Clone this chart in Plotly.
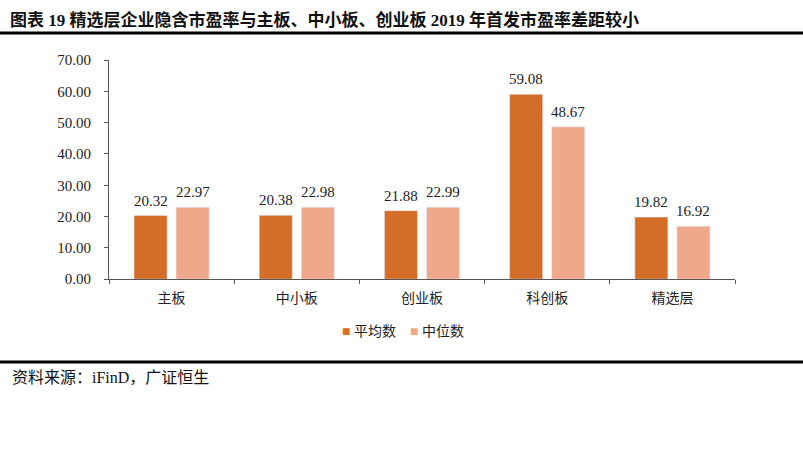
import plotly.graph_objects as go

categories = ["主板", "中小板", "创业板", "科创板", "精选层"]
avg_vals = [20.32, 20.38, 21.88, 59.08, 19.82]
med_vals = [22.97, 22.98, 22.99, 48.67, 16.92]
series_names = ["平均数", "中位数"]
colors = ["#D46D28", "#F0A88A"]
title_text = "图表 19 精选层企业隐含市盈率与主板、中小板、创业板 2019 年首发市盈率差距较小"
source_text = "资料来源：iFinD，广证恒生"

W, H = 803, 455
num_font = "Liberation Serif, Times New Roman, serif"
cjk_font = "Liberation Serif, Noto Sans CJK SC, serif"

fig = go.Figure()
for name, vals, col in zip(series_names, [avg_vals, med_vals], colors):
    fig.add_trace(go.Bar(x=categories, y=vals, name=name, marker_color=col,
                         showlegend=False))

# value labels, anchored to each bar's value (offset to the bar centre in the group)
for vals, xs in [(avg_vals, -21), (med_vals, 21)]:
    for c, v in zip(categories, vals):
        fig.add_annotation(x=c, y=v, text=f"{v:.2f}", showarrow=False,
                           xref="x", yref="y", xshift=xs, yshift=5,
                           yanchor="bottom", xanchor="center",
                           font=dict(family=num_font, size=15, color="#222"))

fig.update_layout(
    width=W, height=H,
    margin=dict(l=0, r=0, t=0, b=0),
    paper_bgcolor="white", plot_bgcolor="white",
    barmode="group", bargap=0.328, bargroupgap=0.214,
    showlegend=False,
    xaxis=dict(domain=[109 / W, 735 / W], showline=True, linecolor="#555", linewidth=1,
               ticks="outside", tickson="boundaries", ticklen=4, tickcolor="#555",
               tickfont=dict(family=cjk_font, size=14, color="#222"), showgrid=False,
               ticklabelstandoff=6),
    yaxis=dict(domain=[1 - 281 / H, 1 - 54 / H], range=[0, 70], dtick=10, tickformat=".2f",
               showline=True, linecolor="#555", linewidth=1, ticks="outside", ticklen=4,
               tickcolor="#555", showgrid=False, zeroline=False, ticklabelstandoff=10,
               tickfont=dict(family=num_font, size=15, color="#222")),
    font=dict(family=cjk_font),
)

# legend
legend_html = (f"<span style='color:{colors[0]}'>■</span> {series_names[0]}"
               f"    <span style='color:{colors[1]}'>■</span> {series_names[1]}")
fig.add_annotation(text=legend_html, xref="paper", yref="paper",
                   x=403 / W, y=1 - 335 / H, xanchor="center", yanchor="middle",
                   showarrow=False, font=dict(family=cjk_font, size=14, color="#222"))

fig.add_annotation(text="<b>" + title_text + "</b>", xref="paper", yref="paper",
                   x=8 / W, y=1 - 12 / H, xanchor="left", yanchor="middle", showarrow=False,
                   font=dict(family=cjk_font, size=17, color="#111"))
fig.add_annotation(text=source_text, xref="paper", yref="paper",
                   x=10 / W, y=1 - 383 / H, xanchor="left", yanchor="middle", showarrow=False,
                   font=dict(family=cjk_font, size=16, color="#111"))
fig.add_shape(type="line", xref="paper", yref="paper", x0=0, x1=1,
              y0=1 - 26 / H, y1=1 - 26 / H, line=dict(color="#000", width=3))
fig.add_shape(type="line", xref="paper", yref="paper", x0=0, x1=1,
              y0=1 - 367 / H, y1=1 - 367 / H, line=dict(color="#000", width=3))

fig.write_html("out.html")
